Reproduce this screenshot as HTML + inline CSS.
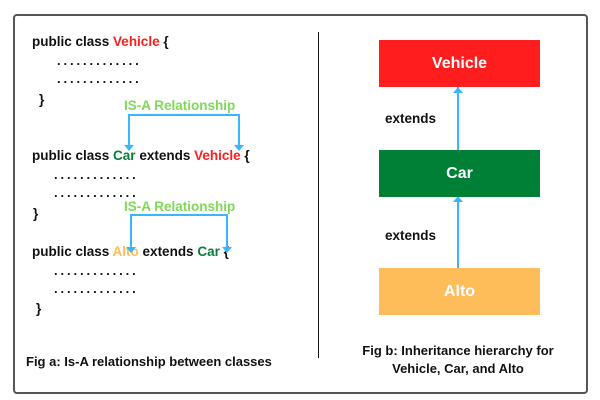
<!DOCTYPE html>
<html><head><style>
body{margin:0;width:600px;height:400px;background:#fff;overflow:hidden;position:relative;font-family:"Liberation Sans",sans-serif;font-weight:bold;}
.t{position:absolute;font-size:13.5px;color:#111;white-space:nowrap;line-height:16px;}
.r{color:#ff1d1d}.g{color:#0a7d3a}.o{color:#ffbd59}.l{color:#7ed957}
.d{position:absolute;font-size:13px;letter-spacing:2.9px;color:#111;line-height:10px;}
.box{position:absolute;left:379px;width:161px;height:47px;color:#fff;font-size:16px;display:flex;align-items:center;justify-content:center;}
</style></head><body>
<div style="position:absolute;left:13px;top:14px;width:571px;height:376px;border:2px solid #555;border-radius:4px;"></div>
<div style="position:absolute;left:318px;top:32px;width:1px;height:326px;background:#111;"></div>

<div class="t" style="left:32px;top:34px">public class <span class="r">Vehicle</span> {</div>
<div class="d" style="left:57px;top:56px">.............</div>
<div class="d" style="left:57px;top:74px">.............</div>
<div class="t" style="left:39px;top:92px">}</div>
<div class="t l" style="left:124px;top:98px">IS-A Relationship</div>

<div class="t" style="left:32px;top:148px">public class <span class="g">Car</span> extends <span class="r">Vehicle</span> {</div>
<div class="d" style="left:54px;top:170px">.............</div>
<div class="d" style="left:54px;top:188px">.............</div>
<div class="t" style="left:33px;top:206px">}</div>
<div class="t l" style="left:124px;top:199px">IS-A Relationship</div>

<div class="t" style="left:32px;top:244px">public class <span class="o">Alto</span> extends <span class="g">Car</span> {</div>
<div class="d" style="left:54px;top:266px">.............</div>
<div class="d" style="left:54px;top:284px">.............</div>
<div class="t" style="left:36px;top:301px">}</div>

<div class="t" style="left:26px;top:354px;font-size:13px">Fig a: Is-A relationship between classes</div>

<svg style="position:absolute;left:0;top:0" width="600" height="400">
<g stroke="#38b6ff" stroke-width="2" fill="none">
<path d="M129 150 V115 H239 V150"/>
<path d="M131 252 V215 H227 V252"/>
<path d="M458 150 V87"/>
<path d="M458 268 V196"/>
</g>
<g fill="#38b6ff">
<path d="M124 145 L134 145 L129 151Z"/><path d="M234 145 L244 145 L239 151Z"/>
<path d="M126 247 L136 247 L131 253Z"/><path d="M222 247 L232 247 L227 253Z"/>
<path d="M453 93 L463 93 L458 87Z"/><path d="M453 202 L463 202 L458 196Z"/>
</g>
</svg>

<div class="box" style="top:40px;background:#ff1d1d">Vehicle</div>
<div class="box" style="top:150px;background:#008037">Car</div>
<div class="box" style="top:268px;background:#ffbd59">Alto</div>
<div class="t" style="left:385px;top:111px">extends</div>
<div class="t" style="left:385px;top:228px">extends</div>
<div class="t" style="left:330px;top:342px;width:256px;text-align:center;font-size:13px;line-height:18px;">Fig b: Inheritance hierarchy for<br>Vehicle, Car, and Alto</div>
</body></html>
